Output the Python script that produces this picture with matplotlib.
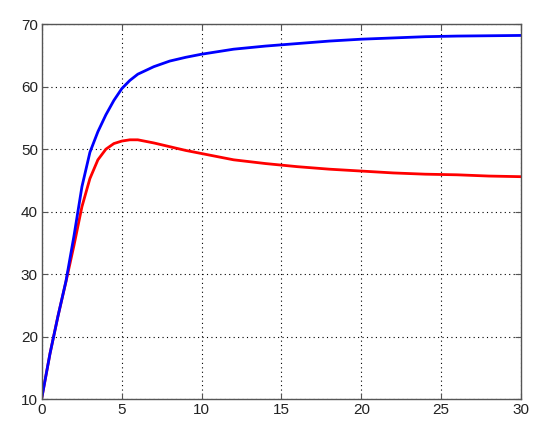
import matplotlib
matplotlib.use("Agg")
import matplotlib.pyplot as plt

t = [0, 0.5, 1, 1.5, 2, 2.5, 3, 3.5, 4, 4.5, 5, 5.5, 6, 7, 8, 9, 10,
     12, 14, 16, 18, 20, 22, 24, 26, 28, 30]
blue_vals = [10.4, 17.3, 23.3, 28.9, 36.1, 44.0, 49.5, 52.8, 55.5, 57.8, 59.7,
             61.0, 62.0, 63.2, 64.1, 64.7, 65.2, 66.0, 66.5, 66.9, 67.3, 67.6,
             67.8, 68.0, 68.1, 68.15, 68.2]
red_vals = [10.4, 17.3, 23.3, 28.8, 34.6, 40.8, 45.3, 48.3, 50.0, 50.9, 51.3,
            51.5, 51.5, 51.0, 50.4, 49.8, 49.3, 48.3, 47.7, 47.2, 46.8, 46.5,
            46.2, 46.0, 45.9, 45.7, 45.6]
x_ticks = [0, 5, 10, 15, 20, 25, 30]
y_ticks = [10, 20, 30, 40, 50, 60, 70]

plt.rcParams["font.family"] = ["Liberation Sans", "DejaVu Sans"]
plt.rcParams["font.size"] = 11

fig = plt.figure(figsize=(5.53, 4.32), dpi=100)
ax = fig.add_axes([0.076, 0.076, 0.866, 0.868])

# red first so the blue line sits on top where they overlap
ax.plot(t, red_vals, color="#ff0000", linewidth=2.0)
ax.plot(t, blue_vals, color="#0000ff", linewidth=2.0)

ax.set_xlim(0, 30)
ax.set_ylim(10, 70)
ax.set_xticks(x_ticks)
ax.set_yticks(y_ticks)
ax.grid(True, color="black", linestyle=(0, (1, 3)), linewidth=0.8)
ax.tick_params(direction="in", top=True, right=True, length=4, color="#555555",
               labelcolor="#222222", pad=3)
for spine in ax.spines.values():
    spine.set_color("#555555")
    spine.set_linewidth(1.0)

fig.savefig("out.png", dpi=100)
